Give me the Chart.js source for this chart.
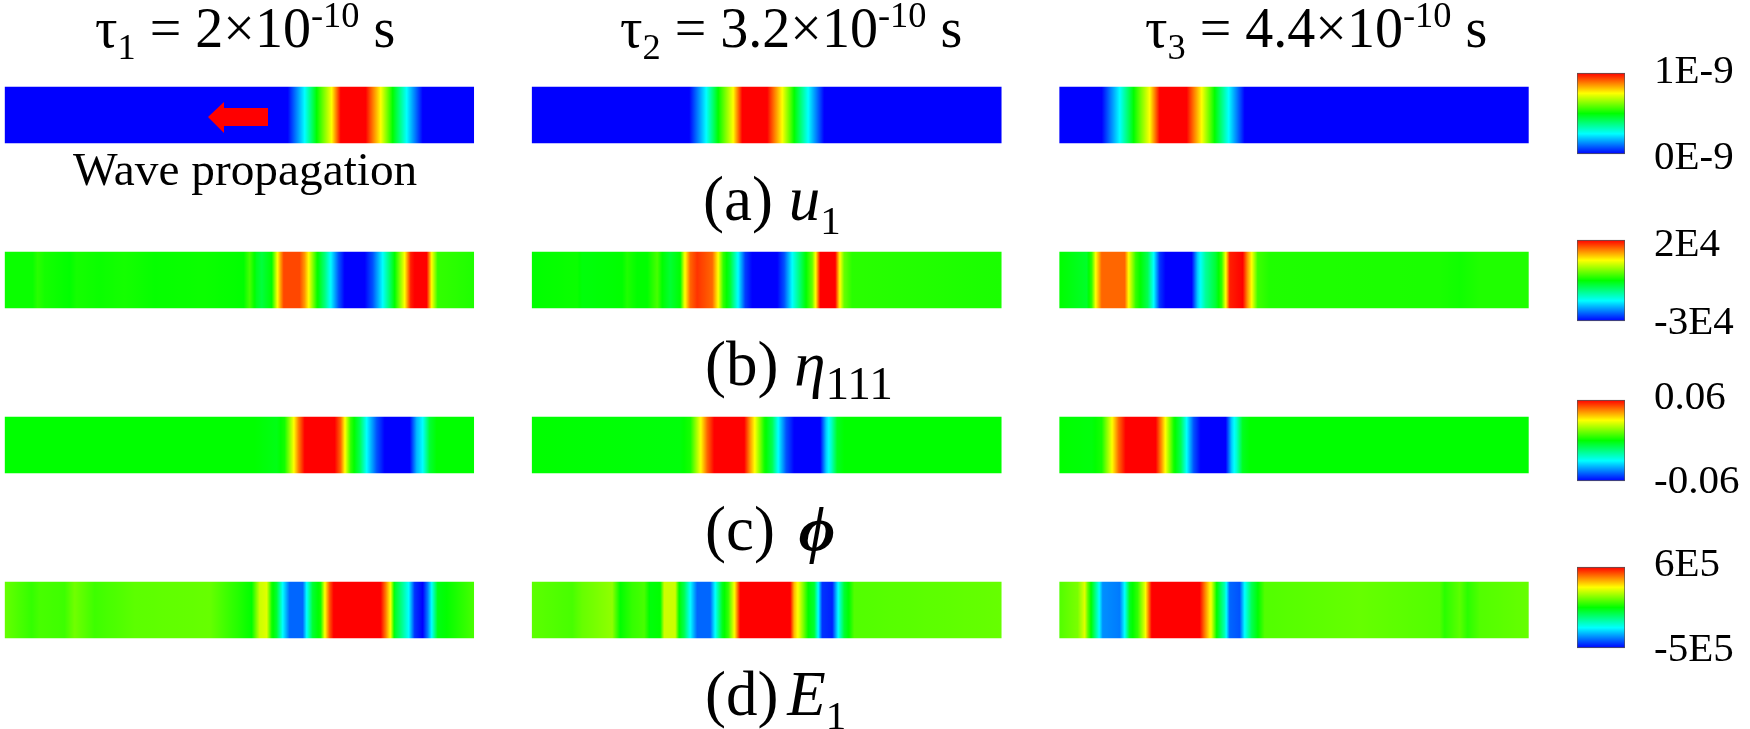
<!DOCTYPE html>
<html>
<head>
    <title>Wave propagation snapshots</title>
    <script src="https://cdn.jsdelivr.net/npm/chart.js"></script>
    <style>
        html, body { margin: 0; padding: 0; background: #fff; }
        #stage { position: relative; width: 1750px; height: 729px; overflow: hidden; font-family: "Liberation Serif", serif; color: #000; }
        #stage canvas { position: absolute; }
        .txt { position: absolute; white-space: nowrap; line-height: 1; }
        .txt sub, .txt sup { font-size: 65%; line-height: 0; }
        .txt i { font-style: italic; }
    </style>
</head>
<body>
<div id="stage">
    <canvas id="strips" width="1750" height="729" style="left:0;top:0"></canvas>
    <canvas id="bar0" style="left:1577px"></canvas>
    <canvas id="bar1" style="left:1577px"></canvas>
    <canvas id="bar2" style="left:1577px"></canvas>
    <canvas id="bar3" style="left:1577px"></canvas>

    <svg style="position:absolute;left:205px;top:98px" width="70" height="40">
        <polygon points="3,19 19,4 19,10 63,10 63,28 19,28 19,35" fill="#ff0000"></polygon>
    </svg>

    <div class="txt" style="left:95px;top:0;font-size:56px">&tau;<sub>1</sub> = 2&times;10<sup>-10</sup> s</div>
    <div class="txt" style="left:620px;top:0;font-size:56px">&tau;<sub>2</sub> = 3.2&times;10<sup>-10</sup> s</div>
    <div class="txt" style="left:1145px;top:0;font-size:56px">&tau;<sub>3</sub> = 4.4&times;10<sup>-10</sup> s</div>
    <div class="txt" style="left:73px;top:146px;font-size:47.3px">Wave propagation</div>
    <div class="txt" style="left:703px;top:168px;font-size:63px">(a) <i>u</i><sub>1</sub></div>
    <div class="txt" style="left:705px;top:333px;font-size:63px">(b) <i>&eta;</i><sub style="font-size:75%">111</sub></div>
    <div class="txt" style="left:705px;top:498px;font-size:63px">(c) <i style="font-weight:bold;margin-left:8px">&#981;</i></div>
    <div class="txt" style="left:705px;top:663px;font-size:63px">(d) <i style="margin-left:-7px">E</i><sub>1</sub></div>
</div>

<script>
    // rows and time steps
    const fields = ["u1", "eta111", "phi", "E1"];
    const times = ["tau1", "tau2", "tau3"];

    // Colour values: position along strip (px), value 0 = blue ... 1 = red
    const u1Pos1 = [0, 283, 300, 312, 327, 336, 361, 376, 388, 402, 418, 469];
    const u1Val1 = [0, 0, 0.25, 0.5, 0.75, 1, 1, 0.75, 0.5, 0.25, 0, 0];
    const u1Pos2 = [0, 157, 174, 186, 201, 210, 235, 250, 262, 276, 292, 469];
    const u1Val2 = [0, 0, 0.25, 0.5, 0.75, 1, 1, 0.75, 0.5, 0.25, 0, 0];
    const u1Pos3 = [0, 42, 60, 74, 90, 100, 127, 142, 155, 169, 185, 469];
    const u1Val3 = [0, 0, 0.25, 0.5, 0.75, 1, 1, 0.75, 0.5, 0.25, 0, 0];

    const etaPos1 = [0, 28, 33, 40, 65, 72, 95, 120, 150, 200, 239, 245, 252, 257, 267, 272, 276, 279, 295, 300, 304, 312, 320, 325, 334, 340, 360, 368, 378, 390, 400, 406, 410, 422, 427, 433, 469];
    const etaVal1 = [0.51, 0.51, 0.54, 0.52, 0.5, 0.52, 0.51, 0.52, 0.505, 0.51, 0.5, 0.57, 0.47, 0.44, 0.5, 0.72, 0.85, 0.93, 0.93, 0.85, 0.75, 0.52, 0.38, 0.27, 0.08, 0, 0, 0.08, 0.25, 0.5, 0.75, 0.97, 1, 1, 0.75, 0.55, 0.53];
    const etaPos2 = [0, 45, 50, 90, 95, 105, 115, 125, 130, 138, 148, 152, 158, 165, 180, 186, 191, 198, 205, 213, 220, 245, 252, 260, 272, 280, 284, 288, 303, 307, 312, 320, 469];
    const etaVal2 = [0.5, 0.51, 0.49, 0.5, 0.53, 0.5, 0.5, 0.57, 0.5, 0.45, 0.5, 0.72, 0.9, 0.95, 0.9, 0.75, 0.55, 0.45, 0.27, 0.06, 0, 0, 0.08, 0.25, 0.47, 0.6, 0.78, 1, 1, 0.78, 0.6, 0.54, 0.525];
    const etaPos3 = [0, 20, 27, 32, 36, 42, 65, 69, 76, 88, 94, 100, 106, 132, 138, 146, 156, 162, 167, 170, 183, 188, 192, 198, 210, 380, 400, 420, 469];
    const etaVal3 = [0.5, 0.47, 0.46, 0.55, 0.75, 0.9, 0.9, 0.75, 0.55, 0.42, 0.25, 0.05, 0, 0, 0.2, 0.35, 0.45, 0.55, 0.8, 0.97, 1, 0.85, 0.75, 0.56, 0.53, 0.525, 0.515, 0.53, 0.53];

    const phiPos1 = [0, 250, 272, 280, 288, 294, 300, 330, 336, 340, 346, 355, 362, 372, 380, 405, 412, 418, 425, 432, 469];
    const phiVal1 = [0.5, 0.5, 0.48, 0.52, 0.72, 0.88, 1, 1, 0.9, 0.76, 0.55, 0.42, 0.25, 0.08, 0, 0, 0.18, 0.25, 0.45, 0.5, 0.5];
    const phiPos2 = [0, 148, 158, 168, 175, 182, 212, 218, 223, 232, 240, 246, 254, 262, 288, 294, 299, 305, 312, 469];
    const phiVal2 = [0.5, 0.49, 0.52, 0.74, 0.9, 1, 1, 0.85, 0.74, 0.52, 0.42, 0.25, 0.08, 0, 0, 0.2, 0.3, 0.47, 0.5, 0.5];
    const phiPos3 = [0, 32, 42, 52, 59, 66, 96, 102, 106, 114, 121, 127, 134, 141, 166, 172, 177, 183, 190, 469];
    const phiVal3 = [0.5, 0.49, 0.52, 0.74, 0.9, 1, 1, 0.85, 0.74, 0.52, 0.42, 0.25, 0.08, 0, 0, 0.2, 0.3, 0.47, 0.5, 0.5];

    const ePos1 = [0, 27, 35, 60, 70, 90, 130, 205, 235, 247, 255, 262, 267, 272, 278, 285, 298, 302, 308, 316, 320, 325, 329, 376, 381, 386, 390, 398, 404, 410, 418, 423, 427, 433, 469];
    const eVal1 = [0.6, 0.55, 0.57, 0.56, 0.61, 0.56, 0.59, 0.6, 0.53, 0.5, 0.7, 0.72, 0.52, 0.45, 0.25, 0.1, 0.1, 0.25, 0.45, 0.52, 0.74, 0.92, 1, 1, 0.88, 0.74, 0.47, 0.35, 0.25, 0.05, 0, 0.12, 0.25, 0.48, 0.57];
    const ePos2 = [0, 40, 50, 80, 88, 100, 112, 118, 128, 132, 143, 147, 152, 158, 165, 178, 183, 190, 196, 202, 208, 258, 262, 268, 276, 282, 286, 290, 300, 306, 312, 318, 322, 469];
    const eVal2 = [0.59, 0.57, 0.6, 0.64, 0.5, 0.55, 0.57, 0.49, 0.5, 0.7, 0.7, 0.5, 0.42, 0.25, 0.1, 0.1, 0.25, 0.47, 0.55, 0.74, 1, 1, 0.82, 0.7, 0.5, 0.45, 0.25, 0.05, 0.03, 0.25, 0.45, 0.52, 0.58, 0.6];
    const ePos3 = [0, 18, 25, 28, 32, 38, 43, 60, 65, 70, 78, 85, 92, 140, 145, 152, 157, 165, 170, 180, 185, 192, 200, 205, 300, 380, 385, 400, 408, 420, 469];
    const eVal3 = [0.58, 0.62, 0.72, 0.6, 0.48, 0.3, 0.14, 0.12, 0.25, 0.47, 0.55, 0.72, 1, 1, 0.88, 0.72, 0.5, 0.32, 0.1, 0.08, 0.25, 0.42, 0.52, 0.58, 0.6, 0.58, 0.54, 0.59, 0.54, 0.58, 0.6];

    // colour bars: range of each field, tick labels and where the labels sit
    const cbMin = [0, -3e4, -0.06, -5e5];
    const cbMax = [1e-9, 2e4, 0.06, 6e5];
    const cbLabels = [["0E-9", "1E-9"], ["-3E4", "2E4"], ["-0.06", "0.06"], ["-5E5", "6E5"]];
    const cbLabelAt = [[-0.05e-9, 1.012e-9], [-31230, 16900], [-0.0615, 0.063], [-534000, 627000]];
    const cbTop = [73, 240, 400, 567];

    const stripPos = [[u1Pos1, u1Pos2, u1Pos3], [etaPos1, etaPos2, etaPos3], [phiPos1, phiPos2, phiPos3], [ePos1, ePos2, ePos3]];
    const stripVal = [[u1Val1, u1Val2, u1Val3], [etaVal1, etaVal2, etaVal3], [phiVal1, phiVal2, phiVal3], [eVal1, eVal2, eVal3]];
    const stripLength = 469;
    const columnStart = [0, 527.5, 1055];

    // jet colour map
    function jet(v) {
        const r = Math.min(Math.max(Math.min(4 * v - 2, 1), 0), 1);
        const g = v < 0.25 ? 4 * v : v > 0.75 ? 4 * (1 - v) : 1;
        const b = Math.min(Math.max(Math.min(2 - 4 * v, 1), 0), 1);
        return `rgb(${Math.round(r * 255)},${Math.round(g * 255)},${Math.round(b * 255)})`;
    }

    function stripFill(ctx) {
        const chart = ctx.chart;
        const x = chart.scales.x;
        if (!chart.chartArea || !x) return "#00ff00";
        const col = ctx.datasetIndex, row = ctx.dataIndex;
        const pos = stripPos[row][col], val = stripVal[row][col];
        const start = columnStart[col];
        const grad = chart.ctx.createLinearGradient(x.getPixelForValue(start), 0, x.getPixelForValue(start + stripLength), 0);
        for (let i = 0; i < pos.length; i++) {
            grad.addColorStop(pos[i] / stripLength, jet(val[i]));
            if (i === pos.length - 1) break;
            // gradients go straight through rgb, so step through the map between two readings
            for (let k = 1; k < 8; k++) {
                const t = k / 8;
                grad.addColorStop((pos[i] + (pos[i + 1] - pos[i]) * t) / stripLength, jet(val[i] + (val[i + 1] - val[i]) * t));
            }
        }
        return grad;
    }

    new Chart(document.getElementById("strips"), {
        type: "bar",
        data: {
            labels: fields,
            datasets: times.map((t, col) => ({
                label: t,
                data: fields.map(() => [columnStart[col], columnStart[col] + stripLength]),
                backgroundColor: stripFill,
                borderWidth: 0,
                barThickness: 56,
                grouped: false
            }))
        },
        options: {
            indexAxis: "y",
            responsive: false,
            animation: false,
            layout: { padding: { left: 4.7, right: 221.3, top: 32.5, bottom: 36.5 } },
            plugins: { legend: { display: false }, tooltip: { enabled: false } },
            scales: {
                x: { type: "linear", min: 0, max: columnStart[2] + stripLength, display: false },
                y: { display: false }
            }
        }
    });

    // one small chart per colour bar
    const cbPad = 10 / 81;
    fields.forEach((f, i) => {
        const canvas = document.getElementById("bar" + i);
        canvas.width = 173;
        canvas.height = 161;
        canvas.style.top = (cbTop[i] - 40) + "px";
        const span = cbMax[i] - cbMin[i];
        new Chart(canvas, {
            type: "bar",
            data: {
                labels: [f],
                datasets: [{
                    data: [[cbMin[i], cbMax[i]]],
                    borderColor: "#555",
                    borderWidth: 1,
                    borderSkipped: false,
                    barPercentage: 1,
                    categoryPercentage: 1,
                    backgroundColor: (ctx) => {
                        const y = ctx.chart.scales.y;
                        if (!ctx.chart.chartArea || !y) return "#00ff00";
                        const grad = ctx.chart.ctx.createLinearGradient(0, y.getPixelForValue(cbMin[i]), 0, y.getPixelForValue(cbMax[i]));
                        [0, 0.25, 0.5, 0.75, 1].forEach(v => grad.addColorStop(v, jet(v)));
                        return grad;
                    }
                }]
            },
            options: {
                responsive: false,
                animation: false,
                layout: { padding: { top: 30, bottom: 30 } },
                plugins: { legend: { display: false }, tooltip: { enabled: false } },
                scales: {
                    x: { display: false },
                    y: {
                        position: "right",
                        min: cbMin[i] - cbPad * span,
                        max: cbMax[i] + cbPad * span,
                        grid: { display: false },
                        border: { display: false },
                        afterBuildTicks: (s) => { s.ticks = cbLabelAt[i].map(v => ({ value: v })); },
                        afterFit: (s) => { s.width = 125; s.paddingTop = 0; s.paddingBottom = 0; },
                        ticks: {
                            autoSkip: false,
                            padding: 21,
                            color: "#000",
                            font: { family: "Liberation Serif", size: 41 },
                            callback: (v, idx) => cbLabels[i][idx]
                        }
                    }
                }
            }
        });
    });
</script>
</body>
</html>
